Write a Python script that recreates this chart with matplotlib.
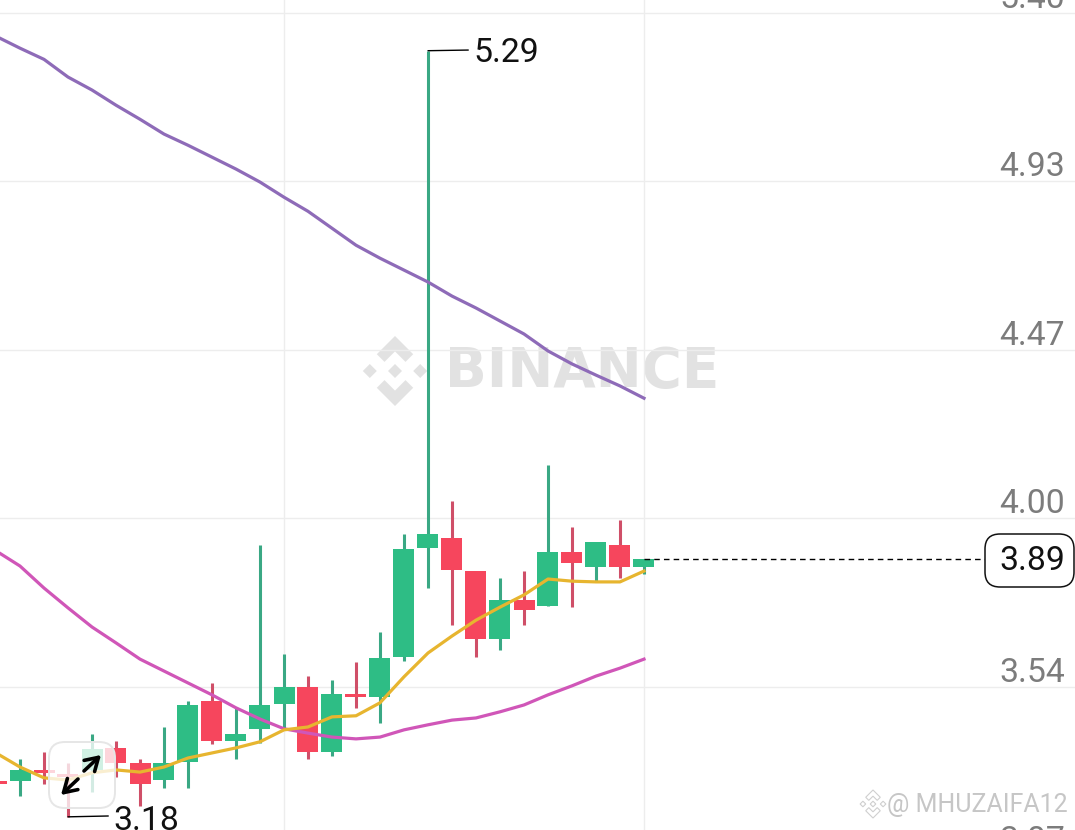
import matplotlib
matplotlib.use('Agg')
import matplotlib.pyplot as plt
from matplotlib.patches import FancyArrowPatch, FancyBboxPatch, Polygon
from matplotlib.transforms import Affine2D
import numpy as np

plt.rcParams['font.family'] = ['Roboto', 'DejaVu Sans']

# candles, oldest first
opens = [3.271, 3.271, 3.302, 3.291, 3.302, 3.363, 3.321, 3.274, 3.324, 3.493, 3.382, 3.416, 3.485, 3.532,
         3.352, 3.512, 3.504, 3.615, 3.917, 3.945, 3.853, 3.665, 3.773, 3.756, 3.906, 3.864, 3.925, 3.864]
closes = [3.263, 3.302, 3.294, 3.283, 3.360, 3.321, 3.263, 3.321, 3.482, 3.382, 3.402, 3.482, 3.532, 3.352,
          3.512, 3.504, 3.612, 3.914, 3.956, 3.856, 3.665, 3.773, 3.745, 3.906, 3.875, 3.934, 3.864, 3.887]
highs = [3.271, 3.332, 3.352, 3.321, 3.402, 3.382, 3.332, 3.421, 3.493, 3.543, 3.476, 3.925, 3.623, 3.562,
         3.551, 3.601, 3.684, 3.956, 5.295, 4.047, 3.853, 3.834, 3.853, 4.147, 3.975, 3.934, 3.994, 3.887]
lows = [3.263, 3.230, 3.263, 3.172, 3.241, 3.283, 3.202, 3.252, 3.252, 3.374, 3.332, 3.377, 3.413, 3.332,
        3.341, 3.474, 3.432, 3.604, 3.806, 3.704, 3.615, 3.634, 3.704, 3.756, 3.753, 3.823, 3.834, 3.845]

ma_yellow = [3.349, 3.310, 3.280, 3.274, 3.294, 3.302, 3.296, 3.310, 3.335, 3.349, 3.363, 3.380, 3.413, 3.421,
             3.449, 3.452, 3.488, 3.560, 3.626, 3.673, 3.717, 3.753, 3.787, 3.831, 3.825, 3.823, 3.823, 3.853]
ma_pink = [3.909, 3.867, 3.806, 3.751, 3.698, 3.654, 3.609, 3.576, 3.543, 3.510, 3.474, 3.443, 3.416, 3.404,
           3.393, 3.388, 3.393, 3.413, 3.427, 3.440, 3.446, 3.463, 3.482, 3.510, 3.535, 3.562, 3.584, 3.609]
ma_purple = [5.335, 5.302, 5.271, 5.222, 5.186, 5.144, 5.105, 5.064, 5.033, 5.000, 4.967, 4.931, 4.889, 4.850,
             4.803, 4.756, 4.720, 4.687, 4.654, 4.615, 4.582, 4.546, 4.510, 4.463, 4.427, 4.396, 4.366, 4.332]

tick_vals = [5.40, 4.933, 4.467, 4.00, 3.533, 3.067]
tick_labels = ['5.40', '4.93', '4.47', '4.00', '3.54', '3.07']
v_grid = [11, 26]
last_price = 3.887

GREEN = '#2EBD85'
RED = '#F6465D'
GREEN_WICK = '#3AA884'
RED_WICK = '#CF4F68'
GREY = '#7C7C7C'

fig = plt.figure(figsize=(10.75, 8.3), dpi=100)
ax = fig.add_axes([0, 0, 1, 1])
ax.set_xlim(-20 / 24, 1055 / 24)
ax.set_ylim(3.1355, 5.4355)
ax.axis('off')
ax.set_zorder(1)

# pixel coordinates of the screenshot, origin top left (for overlays only)
px = Affine2D().scale(1 / 1075, -1 / 830).translate(0, 1) + fig.transFigure

for v in tick_vals:
    ax.axhline(v, color='#EDEDED', lw=1, zorder=1)
for v in v_grid:
    ax.axvline(v, color='#EDEDED', lw=1, zorder=1)


def binance_logo(cx, cy, r, **kw):
    # centre diamond, two side diamonds, top and bottom chevrons
    d = r * 0.2
    shapes = [[(0, -d), (d, 0), (0, d), (-d, 0)]]
    for s in (-1, 1):
        shapes.append([(s * r * 0.72, -d), (s * r * 0.72 + s * d, 0), (s * r * 0.72, d), (s * r * 0.72 - s * d, 0)])
        shapes.append([(0, s * r), (r * 0.52, s * r * 0.48), (r * 0.3, s * r * 0.26), (0, s * r * 0.56),
                       (-r * 0.3, s * r * 0.26), (-r * 0.52, s * r * 0.48)])
    for sh in shapes:
        pts = [(cx + a, cy + b) for a, b in sh]
        fig.add_artist(Polygon(pts, closed=True, transform=px, **kw))


# watermark goes under the axes
binance_logo(395, 371, 35, facecolor='#E2E2E2', edgecolor='none', zorder=0.5)
fig.text(445, 372, 'BINANCE', transform=px, color='#E2E2E2', fontsize=39.5, fontweight='bold',
         family=['DejaVu Sans'], va='center', ha='left', zorder=0.5)

# candles
x = np.arange(-1, len(opens) - 1)
op = np.array(opens)
cl = np.array(closes)
up = cl >= op
wick_cols = [GREEN_WICK if u else RED_WICK for u in up]
body_cols = [GREEN if u else RED for u in up]
ax.vlines(x, lows, highs, colors=wick_cols, lw=2.2, zorder=3)
ax.bar(x, np.abs(cl - op), bottom=np.minimum(op, cl), width=21 / 24, color=body_cols, zorder=4)

# moving averages
ax.plot(x, ma_purple, color='#8E6BB8', lw=2.3, zorder=5)
ax.plot(x, ma_pink, color='#D056B8', lw=2.3, zorder=5)
ax.plot(x, ma_yellow, color='#E7B52F', lw=2.3, zorder=5)

# price labels on the right, sitting just above their grid lines
for v, lab in zip(tick_vals, tick_labels):
    ax.annotate(lab, xy=(1, v), xycoords=ax.get_yaxis_transform(), xytext=(-7, 3.6), textcoords='offset points',
                ha='right', va='baseline', color=GREY, fontsize=24.3, zorder=6)

# high and low markers
ax.annotate('5.29', xy=(17, 5.295), xytext=(33, -2), textcoords='offset points', va='center', ha='left',
            fontsize=24.3, color='#111111', zorder=7,
            arrowprops=dict(arrowstyle='-', color='black', lw=1, shrinkA=2, shrinkB=0, relpos=(0, 0.61)))
ax.annotate('3.18', xy=(2, 3.172), xytext=(33, -3), textcoords='offset points', va='center', ha='left',
            fontsize=24.3, color='#111111', zorder=7,
            arrowprops=dict(arrowstyle='-', color='black', lw=1, shrinkA=2, shrinkB=0, relpos=(0, 0.66)))

# last price, dashed line and box
ax.plot([x[-1], 1000 / 24], [last_price, last_price], color='black', lw=1, ls=(0, (4, 3)), zorder=6)
fig.add_artist(FancyBboxPatch((985, 534), 89, 53, boxstyle='round,pad=0,rounding_size=15', transform=px,
                              facecolor='white', edgecolor='#111111', lw=1.1, zorder=8))
fig.text(1032, 561, '3.89', transform=px, ha='center', va='center', fontsize=24.3, color='#111111', zorder=9)

# expand button over the chart
fig.add_artist(FancyBboxPatch((49, 742), 66, 66, boxstyle='round,pad=0,rounding_size=16', transform=px,
                              facecolor=(1, 1, 1, 0.78), edgecolor='#E6E6E6', lw=1.4, zorder=10))
for a, b in [((84, 771), (101, 755)), ((78, 779), (61, 795))]:
    fig.add_artist(FancyArrowPatch(a, b, transform=px, arrowstyle='->,head_length=9,head_width=5.5', color='black',
                                   lw=2.6, shrinkA=0, shrinkB=0, zorder=11))

# bottom right credit
binance_logo(873, 804, 14, facecolor='white', edgecolor='#CFCFCF', lw=0.8, zorder=12)
fig.text(1068, 805, '@ MHUZAIFA12', transform=px, ha='right', va='center', fontsize=18, color='#C6C6C6',
         zorder=12)

fig.savefig('out.png', dpi=100)
